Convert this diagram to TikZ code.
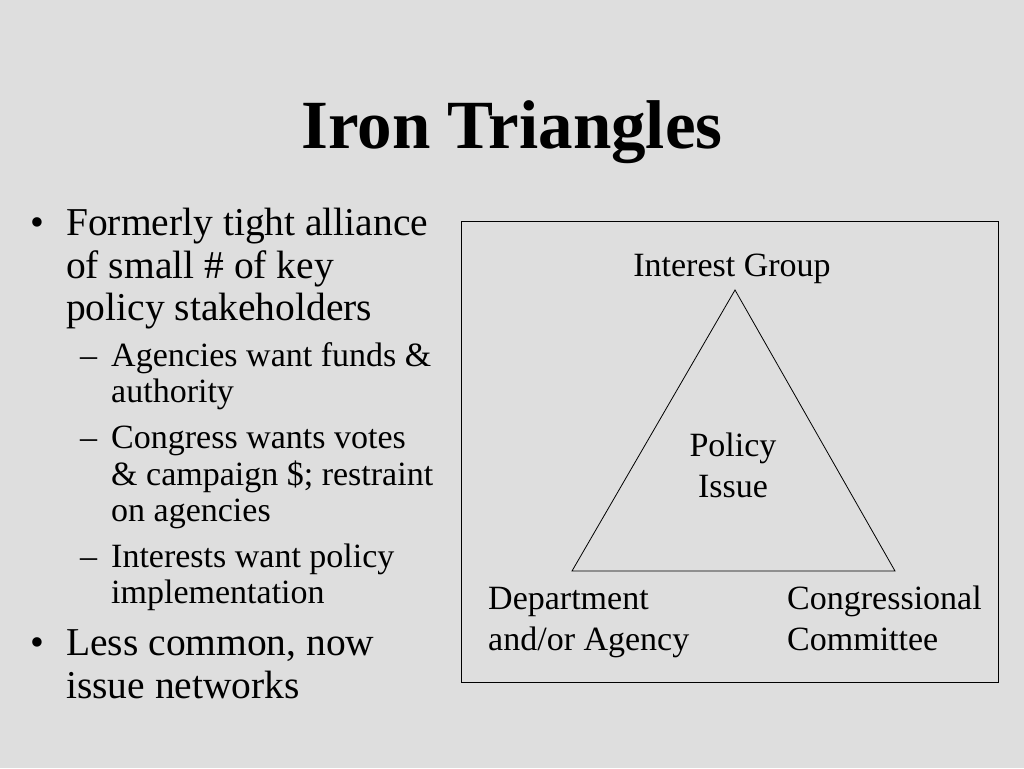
\documentclass[tikz,border=0pt]{standalone}
\usepackage{fontspec}
\setmainfont{Liberation Serif}
\begin{document}
\begin{tikzpicture}[x=1pt,y=-1pt,
  big/.style={anchor=base west,inner sep=0pt,font=\fontsize{39.5}{43}\selectfont},
  sub/.style={anchor=base west,inner sep=0pt,font=\fontsize{34}{37}\selectfont},
  lab/.style={inner sep=0pt,font=\fontsize{34}{41}\selectfont}]
\fill[fill={rgb,255:red,222;green,222;blue,222}] (0,0) rectangle (1024,768);
\useasboundingbox (0,0) rectangle (1024,768);
\node[anchor=base,inner sep=0pt,font=\fontsize{69}{75}\selectfont\bfseries] (title) at (512,148) {Iron Triangles};
% bullets
\node[big] (b1) at (30,235) {•};
\node[big] (l1) at (66,235) {Formerly tight alliance};
\node[big] (l2) at (66,278) {of small \# of key};
\node[big] (l3) at (66,320) {policy stakeholders};
\node[sub] (d1) at (80,366) {–};
\node[sub] (s1) at (111,366) {Agencies want funds \&};
\node[sub] (s2) at (111,402) {authority};
\node[sub] (d2) at (80,448) {–};
\node[sub] (s3) at (111,448) {Congress wants votes};
\node[sub] (s4) at (111,485) {\& campaign \$; restraint};
\node[sub] (s5) at (111,521) {on agencies};
\node[sub] (d3) at (80,567) {–};
\node[sub] (s6) at (111,567) {Interests want policy};
\node[sub] (s7) at (111,603) {implementation};
\node[big] (b2) at (30,655) {•};
\node[big] (l4) at (66,655) {Less common, now};
\node[big] (l5) at (66,698) {issue networks};
% diagram
\node[draw,line width=0.8pt,minimum width=537pt,minimum height=461pt,inner sep=0pt] (box) at (729.5,451.5) {};
\coordinate (A) at (735,290);
\coordinate (B) at (572,571);
\coordinate (C) at (895,571);
\draw[line width=0.8pt] (A) -- (B) -- (C) -- cycle;
\node[lab,anchor=base] (ig) at (732,276) {Interest Group};
\node[lab,align=center,anchor=base] (pi) at (733,497) {Policy\\Issue};
\node[lab,align=left,anchor=base west] (da) at (488,650) {Department\\and/or Agency};
\node[lab,align=left,anchor=base west] (cc) at (787,650) {Congressional\\Committee};
\end{tikzpicture}
\end{document}
